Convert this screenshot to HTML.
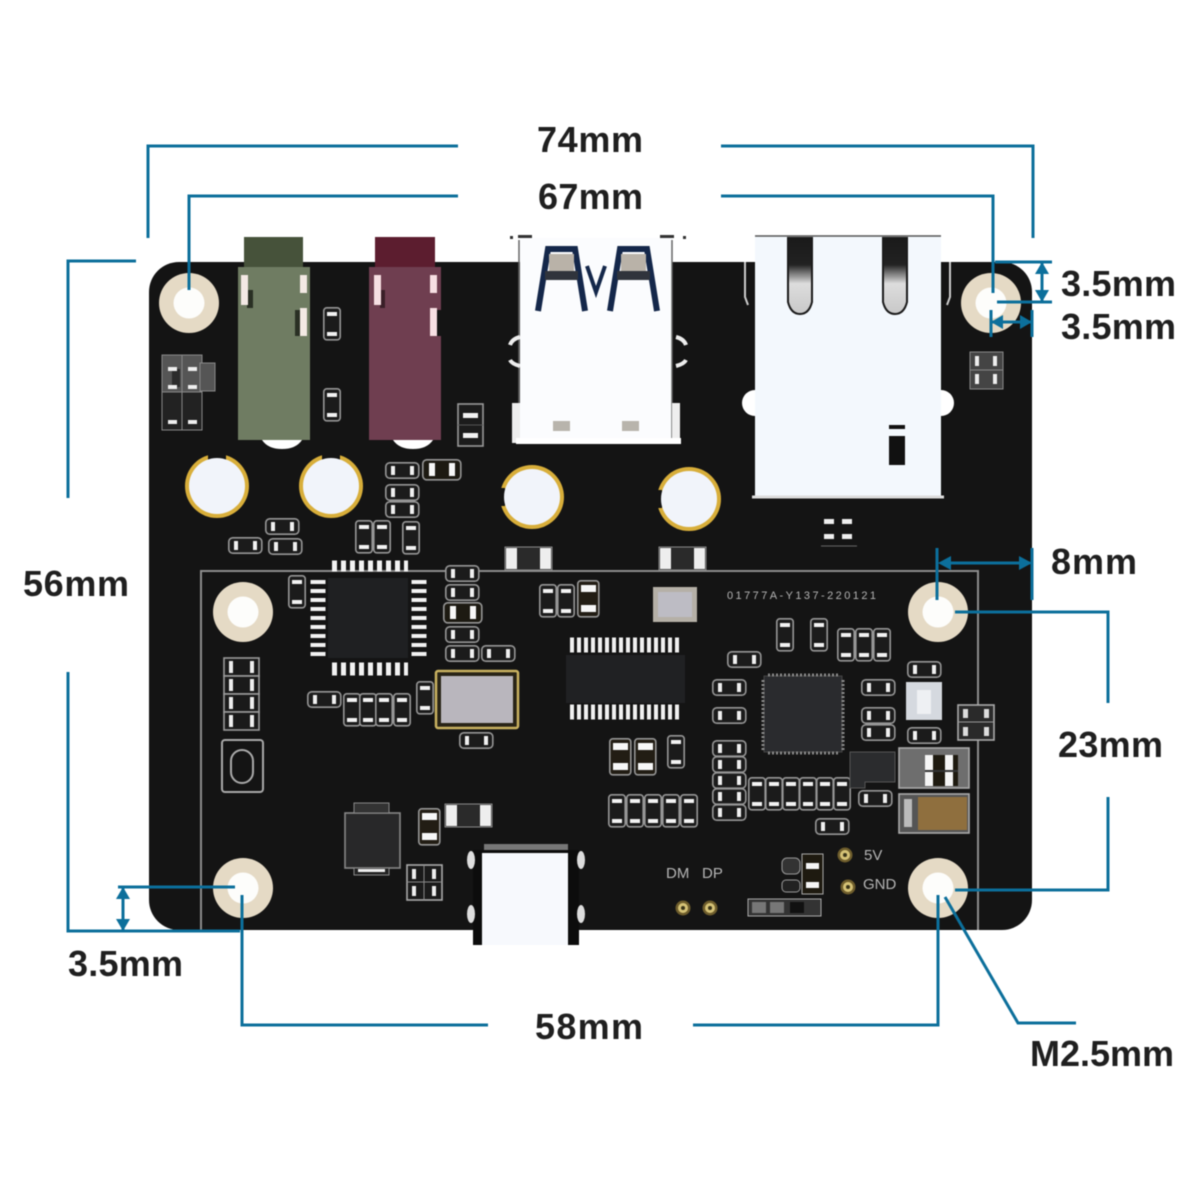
<!DOCTYPE html>
<html><head><meta charset="utf-8"><style>
html,body{margin:0;padding:0;background:#fff}
svg{display:block;filter:blur(.45px)}
text{font-family:"Liberation Sans",sans-serif}
.d{font-weight:700;font-size:36px;fill:#1f1f1f}
.s{font-size:11px;fill:#b5b5b5}
.dim{fill:none;stroke:#0c6f9b;stroke-width:3}
</style></head><body>
<svg width="1200" height="1200" viewBox="0 0 1200 1200" xmlns="http://www.w3.org/2000/svg">
<defs>
<g id="v"><rect x=".8" y=".8" width="16.4" height="32" rx="3" fill="#1b1b1b" stroke="#969696" stroke-width="1.6"/><rect x="4" y="5" width="10" height="4" fill="#f2f2f2"/><rect x="4" y="25" width="10" height="4" fill="#f2f2f2"/></g>
<g id="V"><rect x=".8" y=".8" width="21" height="36" rx="3" fill="#221d14" stroke="#969696" stroke-width="1.6"/><rect x="4" y="5" width="15" height="7" fill="#f7f7f7"/><rect x="4" y="25" width="15" height="7" fill="#f7f7f7"/></g>
<g id="h"><rect x=".8" y=".8" width="33" height="15.4" rx="4" fill="#1b1b1b" stroke="#969696" stroke-width="1.6"/><rect x="6" y="4" width="4" height="9" fill="#f0f0f0"/><rect x="25" y="4" width="4" height="9" fill="#f0f0f0"/></g>
<g id="H"><rect x=".8" y=".8" width="38" height="20" rx="4" fill="#1d1a12" stroke="#969696" stroke-width="1.6"/><rect x="7" y="4" width="6" height="13" fill="#f7f7f7"/><rect x="27" y="4" width="6" height="13" fill="#f7f7f7"/></g>
<g id="hole"><circle r="30" fill="#e5dac5"/><circle r="15.5" fill="#fdfdfb"/></g>
<g id="dot"><circle r="7.5" fill="#6e5d2c"/><circle r="5" fill="#d5c276"/><circle r="2" fill="#3a3418"/></g>
<g id="diode"><rect width="47" height="23" fill="#2a2a2a" stroke="#8a8a8a"/><rect x="1" y="1" width="11" height="21" fill="#eee"/><rect x="35" y="1" width="11" height="21" fill="#eee"/></g>
<linearGradient id="g" x1="0" y1="0" x2="0" y2="1"><stop offset="0" stop-color="#1a1a1a"/><stop offset=".35" stop-color="#222"/><stop offset=".6" stop-color="#ddd"/><stop offset="1" stop-color="#c8c8c8"/></linearGradient>
</defs>

<!-- board -->
<rect x="149" y="262" width="883" height="668" rx="30" fill="#141414"/>
<path d="M201 930V571H978V930" fill="none" stroke="#8c8c8c" stroke-width="2"/>

<!-- holes -->
<use href="#hole" x="189" y="303"/><use href="#hole" x="991" y="303"/>
<use href="#hole" x="243" y="612"/><use href="#hole" x="938" y="612"/>
<use href="#hole" x="243" y="888"/><use href="#hole" x="938" y="888"/>

<!-- audio jacks -->
<rect x="244" y="237" width="59" height="30" fill="#46523a"/>
<rect x="238" y="267" width="72" height="173" fill="#6f7c62"/>
<path d="M262 440h40q-6 9-20 9t-20-9z" fill="#fff"/>
<rect x="247" y="290" width="6" height="18" fill="#2a3024"/><rect x="295" y="310" width="5" height="26" fill="#2a3024"/>
<rect x="241" y="275" width="7" height="30" fill="#f3e9e4"/><rect x="300" y="275" width="7" height="18" fill="#f3e9e4"/><rect x="300" y="308" width="7" height="28" fill="#f3e9e4"/>
<rect x="375" y="237" width="60" height="30" fill="#5c1d2f"/>
<rect x="369" y="267" width="72" height="173" fill="#6f3e50"/>
<path d="M393 440h40q-6 9-20 9t-20-9z" fill="#fff"/>
<rect x="380" y="290" width="5" height="18" fill="#3a1f28"/><rect x="436" y="310" width="5" height="26" fill="#141414"/>
<rect x="374" y="275" width="7" height="30" fill="#f7dfe3"/><rect x="430" y="275" width="7" height="18" fill="#f7dfe3"/><rect x="430" y="308" width="7" height="28" fill="#f7dfe3"/>

<!-- USB -->
<rect x="520" y="238" width="152" height="205" fill="#fbfcfe"/>
<path d="M519 240V443M672 240V443" stroke="#666" stroke-width="1.5"/>
<rect x="512" y="403" width="8" height="40" fill="#eee"/><rect x="672" y="403" width="8" height="40" fill="#eee"/>
<rect x="516" y="438" width="165" height="6" fill="#fff"/>
<path d="M510 236h3v3h-3zM518 235h14v3h-14zM660 235h14v3h-14zM683 236h3v3h-3z" fill="#333"/>
<path d="M538 311l10-62h27l10 62" fill="none" stroke="#14274a" stroke-width="6"/>
<path d="M610 311l10-62h27l10 62" fill="none" stroke="#14274a" stroke-width="6"/>
<rect x="549" y="254" width="25" height="17" fill="#b9b2a8"/><rect x="621" y="254" width="25" height="17" fill="#b9b2a8"/>
<rect x="545" y="271" width="33" height="9" fill="#30343c"/><rect x="617" y="271" width="33" height="9" fill="#30343c"/>
<path d="M587 266l9 26 9-26" fill="none" stroke="#14274a" stroke-width="4"/>
<rect x="553" y="421" width="17" height="10" fill="#b8b4ac"/><rect x="622" y="421" width="17" height="10" fill="#b8b4ac"/>
<path d="M510 345q2-6 10-8M510 360q2 4 10 6M676 337q8 2 10 8M676 366q8-2 10-6" fill="none" stroke="#eee" stroke-width="4"/>

<!-- RJ45 -->
<circle cx="755" cy="403" r="13" fill="#fff"/><circle cx="941" cy="403" r="13" fill="#fff"/>
<path d="M745 262v35l3 8M950 262v35l-3 8" stroke="#ccc" fill="none" stroke-width="2"/>
<rect x="755" y="236" width="186" height="260" fill="#f3f8fd"/>
<path d="M752 497h192" stroke="#ddd" stroke-width="3"/>
<path d="M755 236H941" stroke="#555" stroke-width="1.5"/>
<path d="M788 238h24v64q-3 12-12 12t-12-12z" fill="url(#g)" stroke="#1b1b1b" stroke-width="2"/>
<path d="M883 238h24v64q-3 12-12 12t-12-12z" fill="url(#g)" stroke="#1b1b1b" stroke-width="2"/>
<rect x="889" y="425" width="16" height="4" fill="#111"/><rect x="889" y="436" width="16" height="29" fill="#111"/>

<!-- gold ring holes -->
<g fill="#d8ae3a"><circle cx="217" cy="486" r="32"/><circle cx="331" cy="486" r="32"/><circle cx="532" cy="497" r="32"/><circle cx="689" cy="499" r="32"/></g>
<g fill="#141414"><rect x="208" y="452" width="18" height="8"/><rect x="322" y="452" width="18" height="8"/><rect x="497" y="488" width="8" height="18"/><rect x="654" y="490" width="8" height="18"/></g>
<g fill="#f1f4fa"><circle cx="217" cy="486" r="28"/><circle cx="331" cy="486" r="28"/><circle cx="532" cy="497" r="28"/><circle cx="689" cy="499" r="28"/></g>

<!-- upper small parts -->
<g>
<rect x="162" y="355" width="40" height="37" fill="#555" stroke="#888"/><rect x="162" y="392" width="40" height="38" fill="#222" stroke="#888"/><rect x="200" y="363" width="15" height="28" fill="#555" stroke="#888"/>
<path d="M182 355v75" stroke="#888" fill="none"/>
<rect x="172" y="369" width="8" height="18" fill="#2c2c2c"/>
<rect x="168" y="367" width="9" height="4" fill="#eee"/><rect x="188" y="367" width="9" height="4" fill="#eee"/><rect x="168" y="385" width="9" height="4" fill="#eee"/><rect x="188" y="385" width="9" height="4" fill="#eee"/>
<rect x="168" y="420" width="9" height="4" fill="#eee"/><rect x="188" y="420" width="9" height="4" fill="#eee"/>
<rect x="458" y="404" width="25" height="42" fill="#1c1c1c" stroke="#999" stroke-width="1.6"/><path d="M458 425h25" stroke="#555"/><rect x="463" y="413" width="15" height="5" fill="#f2f2f2"/><rect x="463" y="433" width="15" height="5" fill="#f2f2f2"/>
<rect x="970" y="352" width="33" height="37" fill="#444" stroke="#888"/><path d="M970 370h33" stroke="#888"/><rect x="975" y="356" width="4" height="10" fill="#eee"/><rect x="993" y="356" width="4" height="10" fill="#eee"/><rect x="975" y="374" width="4" height="10" fill="#eee"/><rect x="993" y="374" width="4" height="10" fill="#eee"/>
<rect x="824" y="519" width="10" height="5" fill="#eee"/><rect x="842" y="519" width="10" height="5" fill="#eee"/><rect x="824" y="534" width="10" height="5" fill="#eee"/><rect x="842" y="534" width="10" height="5" fill="#eee"/>
<path d="M821 546h36" stroke="#666"/>
</g>
<use href="#v" x="323" y="307"/><use href="#v" x="323" y="388"/>
<use href="#h" x="385" y="462"/><use href="#H" x="422" y="459"/><use href="#h" x="385" y="484"/><use href="#h" x="385" y="501"/>
<use href="#h" x="265" y="518"/><use href="#h" x="228" y="537"/><use href="#h" x="268" y="538"/>
<use href="#v" x="355" y="520"/><use href="#v" x="373" y="520"/><use href="#v" x="402" y="521"/>
<use href="#diode" x="505" y="547"/><use href="#diode" x="659" y="547"/>

<!-- QFP left -->
<rect x="328" y="578" width="80" height="80" fill="#1f2022"/>
<g fill="none" stroke="#f2f2f2">
<path d="M332 566H408" stroke-width="11" stroke-dasharray="5 4"/>
<path d="M332 669H408" stroke-width="13" stroke-dasharray="5 4"/>
<path d="M318 580V656" stroke-width="15" stroke-dasharray="4 5"/>
<path d="M419 580V656" stroke-width="15" stroke-dasharray="4 5"/>
</g>

<use href="#v" x="288" y="575"/>
<use href="#h" x="445" y="565"/><use href="#h" x="445" y="584"/><use href="#H" x="443" y="602"/><use href="#h" x="445" y="626"/><use href="#h" x="445" y="645"/><use href="#h" x="481" y="645"/>
<use href="#v" x="539" y="584"/><use href="#v" x="557" y="584"/><use href="#V" x="577" y="580"/>

<!-- small crystal -->
<rect x="653" y="587" width="44" height="35" fill="#b5b0a7"/><rect x="658" y="592" width="34" height="25" fill="#bdbcc4"/>
<text class="s" x="727" y="599" textLength="150" style="letter-spacing:1px">01777A-Y137-220121</text>

<!-- TSSOP -->
<rect x="566" y="655" width="119" height="48" fill="#202123"/>
<g fill="none" stroke="#f0f0f0" stroke-width="15" stroke-dasharray="4 3"><path d="M570 645H681"/><path d="M570 712H681"/></g>

<!-- header -->
<g fill="#1a1a1a" stroke="#9a9a9a" stroke-width="1.6">
<rect x="224" y="658" width="35" height="18"/><rect x="224" y="676" width="35" height="18"/><rect x="224" y="694" width="35" height="18"/><rect x="224" y="712" width="35" height="18"/></g>
<g fill="#eee"><rect x="229" y="661" width="4" height="12"/><rect x="250" y="661" width="4" height="12"/><rect x="229" y="679" width="4" height="12"/><rect x="250" y="679" width="4" height="12"/><rect x="229" y="697" width="4" height="12"/><rect x="250" y="697" width="4" height="12"/><rect x="229" y="715" width="4" height="12"/><rect x="250" y="715" width="4" height="12"/></g>
<!-- button -->
<rect x="222" y="740" width="41" height="52" rx="3" fill="none" stroke="#aaa" stroke-width="2"/>
<rect x="231" y="750" width="22" height="33" rx="11" fill="none" stroke="#aaa" stroke-width="2"/>

<!-- left bottom -->
<use href="#h" x="307" y="691"/>
<use href="#v" x="343" y="693"/><use href="#v" x="359" y="693"/><use href="#v" x="375" y="693"/><use href="#v" x="393" y="693"/>
<use href="#v" x="416" y="681"/>
<rect x="436" y="671" width="82" height="57" rx="2" fill="#282416" stroke="#c9b260" stroke-width="2.5"/><rect x="441" y="676" width="72" height="47" fill="#b9b6bd"/>
<use href="#h" x="459" y="732"/>
<rect x="345" y="813" width="55" height="55" fill="#282829" stroke="#888" stroke-width="1.6"/>
<rect x="354" y="803" width="35" height="10" fill="#333" stroke="#888"/><rect x="354" y="868" width="35" height="7" fill="#222" stroke="#888"/><rect x="358" y="869" width="27" height="3" fill="#eee"/>
<use href="#V" x="418" y="808"/>
<use href="#diode" x="445" y="804"/>
<rect x="407" y="865" width="35" height="35" fill="#1a1a1a" stroke="#aaa" stroke-width="1.6"/><path d="M407 882h35M424 865v35" stroke="#888"/><rect x="412" y="869" width="4" height="10" fill="#eee"/><rect x="432" y="869" width="4" height="10" fill="#eee"/><rect x="412" y="886" width="4" height="10" fill="#eee"/><rect x="432" y="886" width="4" height="10" fill="#eee"/>

<!-- Type C -->
<rect x="484" y="844" width="84" height="10" fill="#777"/>
<rect x="473" y="850" width="106" height="95" fill="#0c0c0c"/>
<rect x="482" y="853" width="86" height="92" fill="#f7f9fd"/>
<ellipse cx="471" cy="860" rx="4" ry="9" fill="#ddd"/><ellipse cx="581" cy="860" rx="4" ry="9" fill="#ddd"/>
<ellipse cx="471" cy="914" rx="4" ry="9" fill="#ddd"/><ellipse cx="581" cy="914" rx="4" ry="9" fill="#ddd"/>

<!-- mid parts -->
<use href="#V" x="609" y="738"/><use href="#V" x="634" y="738"/><use href="#v" x="667" y="735"/>
<use href="#v" x="608" y="794"/><use href="#v" x="626" y="794"/><use href="#v" x="644" y="794"/><use href="#v" x="662" y="794"/><use href="#v" x="680" y="794"/>

<!-- QFP right -->
<rect x="764" y="676" width="78" height="76" fill="#2a2b2e" stroke="#444"/>
<path d="M768 675H840M768 753H840M763 680V750M843 680V750" stroke="#8a8a8a" stroke-width="3" stroke-dasharray="2 2" fill="none"/>

<use href="#v" x="776" y="618"/><use href="#v" x="810" y="618"/>
<use href="#v" x="837" y="628"/><use href="#v" x="855" y="628"/><use href="#v" x="873" y="628"/>
<use href="#h" x="727" y="651"/><use href="#h" x="712" y="679"/><use href="#h" x="712" y="707"/>
<use href="#h" x="712" y="740"/><use href="#h" x="712" y="756"/><use href="#h" x="712" y="772"/><use href="#h" x="712" y="788"/><use href="#h" x="712" y="804"/>
<use href="#v" x="748" y="777"/><use href="#v" x="765" y="777"/><use href="#v" x="782" y="777"/><use href="#v" x="799" y="777"/><use href="#v" x="816" y="777"/><use href="#v" x="833" y="777"/>
<path d="M850 752h45v30h-30v6h-15z" fill="#2b2c2e" stroke="#555"/>
<use href="#h" x="858" y="790"/><use href="#h" x="815" y="818"/>
<use href="#h" x="861" y="679"/><use href="#h" x="861" y="707"/><use href="#h" x="861" y="724"/>
<use href="#h" x="907" y="661"/><use href="#h" x="907" y="727"/>
<rect x="906" y="682" width="36" height="38" fill="#d5d9df"/><rect x="917" y="690" width="14" height="24" fill="#eef0f3"/>
<rect x="958" y="705" width="36" height="35" fill="#2a2a2a" stroke="#aaa" stroke-width="1.6"/><path d="M958 722h36" stroke="#999"/><rect x="963" y="709" width="5" height="9" fill="#ddd"/><rect x="984" y="709" width="5" height="9" fill="#ddd"/><rect x="963" y="727" width="5" height="9" fill="#ddd"/><rect x="984" y="727" width="5" height="9" fill="#ddd"/>
<rect x="899" y="748" width="70" height="40" fill="#6e6e6e" stroke="#aaa" stroke-width="1.6"/><rect x="925" y="755" width="33" height="31" fill="#1e1a10"/><rect x="925" y="755" width="8" height="31" fill="#f5f5f5"/><rect x="945" y="755" width="8" height="31" fill="#f5f5f5"/><path d="M925 771h33" stroke="#333" stroke-width="2"/>
<rect x="899" y="794" width="70" height="39" fill="#555" stroke="#aaa" stroke-width="1.6"/><rect x="918" y="797" width="49" height="33" fill="#8f6f3e"/><rect x="904" y="799" width="8" height="28" fill="#bbb"/>

<!-- lower right -->
<use href="#dot" x="845" y="855"/><use href="#dot" x="848" y="887"/><use href="#dot" x="683" y="908"/><use href="#dot" x="710" y="908"/>
<text class="s" x="864" y="860" style="font-size:15px">5V</text>
<text class="s" x="863" y="889" style="font-size:15px">GND</text>
<text class="s" x="666" y="878" style="font-size:15px">DM</text>
<text class="s" x="702" y="878" style="font-size:15px">DP</text>
<rect x="782" y="858" width="18" height="16" rx="5" fill="#333" stroke="#999"/><rect x="782" y="880" width="18" height="12" rx="4" fill="#222" stroke="#999"/>
<rect x="802" y="854" width="21" height="40" fill="#1e1a10" stroke="#aaa"/><rect x="806" y="863" width="13" height="6" fill="#f5f5f5"/><rect x="806" y="882" width="13" height="6" fill="#f5f5f5"/>
<rect x="748" y="899" width="73" height="17" fill="#333" stroke="#aaa"/><rect x="752" y="902" width="14" height="11" fill="#777"/><rect x="770" y="902" width="14" height="11" fill="#777"/><rect x="790" y="902" width="14" height="11" fill="#111"/>

<!-- dimensions -->
<g class="dim">
<path d="M148 238V146H458M721 146H1033V238"/>
<path d="M189 290V196H458M721 196H993V293"/>
<path d="M136 261H68V498M68 672V931H240"/>
<path d="M118 887H235"/>
<path d="M123 887V931"/>
<path d="M242 895V1025H488M693 1025H938V895"/>
<path d="M955 612H1108V703M1108 797V890H955"/>
<path d="M937 548V600M1032 548V600M945 563H1030"/>
<path d="M995 262H1052M997 302H1052M1042 262V302"/>
<path d="M991 310V337M1032 310V337M992 322H1032"/>
<path d="M945 897L1018 1023H1076"/>
</g>
<g fill="#0c6f9b">
<path d="M123 887l-7 12h14zM123 931l-7-12h14z"/>
<path d="M938 563l13-7v14zM1032 563l-13-7v14z"/>
<path d="M1042 262l-7 12h14zM1042 302l-7-12h14z"/>
<path d="M991 322l12-7v14zM1032 322l-12-7v14z"/>
</g>

<text class="d" x="537" y="152" textLength="106">74mm</text>
<text class="d" x="538" y="209" textLength="105">67mm</text>
<text class="d" x="1061" y="296" textLength="115">3.5mm</text>
<text class="d" x="1061" y="339" textLength="115">3.5mm</text>
<text class="d" x="23" y="596" textLength="106">56mm</text>
<text class="d" x="1051" y="574" textLength="86">8mm</text>
<text class="d" x="1058" y="757" textLength="105">23mm</text>
<text class="d" x="68" y="976" textLength="115">3.5mm</text>
<text class="d" x="535" y="1039" textLength="108">58mm</text>
<text class="d" x="1030" y="1066" textLength="144">M2.5mm</text>
</svg>
</body></html>
